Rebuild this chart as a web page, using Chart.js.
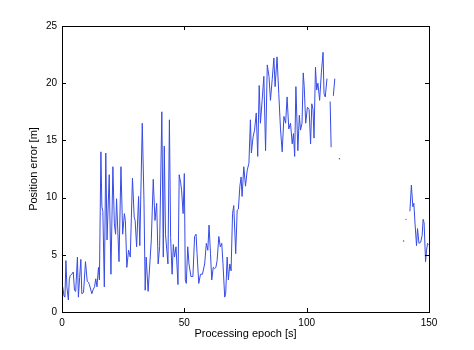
<!DOCTYPE html>
<html>
<head>
  <title>Position error</title>
  <script src="https://cdn.jsdelivr.net/npm/chart.js"></script>
  <style>
    body { margin: 0; background: #fff; }
    #wrap { width: 474px; height: 350px; }
  </style>
</head>
<body>
  <div id="wrap"><canvas id="errChart" width="474" height="350"></canvas></div>

  <script>
    // processing epoch [s] and position error [m]
    const epochs = [
      0.3, 0.8, 1.2, 1.6, 2.0, 2.6, 3.0, 3.4, 4.0, 4.6, 5.1, 5.6, 6.3, 6.7, 7.2, 7.7, 8.1, 8.8, 9.6, 10.3,
      10.8, 11.2, 12.2, 12.8, 13.3, 13.8, 14.3, 14.9, 15.3, 15.9, 16.3, 16.7, 17.3, 17.9, 18.4, 19.3, 20.0, 20.8, 21.4, 21.9,
      22.3, 23.3, 24.1, 24.8, 25.5, 25.9, 26.5, 27.2, 27.9, 28.8, 29.5, 29.9, 30.5, 31.3, 31.8, 32.8, 33.5, 34.0, 34.4, 35.2,
      36.5, 37.3, 38.0, 38.7, 39.3, 39.9, 40.8, 41.4, 41.8, 42.3, 43.3, 43.9, 44.4, 45.0, 45.5, 46.0, 46.6, 47.4, 47.9, 48.5,
      48.9, 49.5, 50.0, 50.4, 50.8, 51.4, 51.9, 52.7, 53.5, 54.2, 54.8, 55.2, 55.9, 56.6, 57.4, 58.3, 59.0, 59.6, 60.1, 60.7,
      61.2, 61.8, 62.4, 62.9, 63.4, 64.1, 64.7, 65.3, 65.8, 66.5, 66.9, 67.5, 68.0, 68.6, 69.1, 69.7, 70.2, 71.0, 71.6, 72.1,
      72.7, 73.2, 73.6, 74.3, 75.0, 75.7, 76.4, 77.0, 77.4, 78.1, 78.7, 79.4, 80.0, 80.6, 81.1, 81.8, 82.5, 83.2, 83.9, 84.6,
      85.2, 85.9, 86.6, 87.1, 87.9, 88.6, 89.3, 90.0, 90.7, 91.4, 92.0, 92.7, 93.4, 94.1, 94.6, 95.1, 95.6, 96.4, 97.0, 97.5,
      98.1, 98.6, 99.0, 99.6, 100.3, 101.0, 101.6, 102.1, 102.6, 103.0, 103.6, 104.1, 104.6, 105.3, 106.0, 106.7, 107.1, 107.6, 108.3, 108.9,
      109.6, 110.0, 110.5, 110.9, 111.5, 112.2, 113.4, 114.0, 139.6, 140.1, 140.6, 141.2, 142.2, 142.8, 143.4, 143.8, 144.3, 144.9, 145.3, 145.9,
      146.6, 147.2, 147.6, 148.0, 148.6, 149.0, 149.4, 149.8
    ];
    const errors = [
      2.2, 1.4, 1.3, 4.5, 2.2, 1.05, 2.9, 3.2, 3.3, 3.5, 1.9, 1.8, 4.8, 1.3, 3.0, 4.6, 1.6, 1.7, 4.4, 2.7,
      2.6, 2.4, 1.6, 2.0, 2.2, 2.9, 2.2, 3.9, 2.8, 14.0, 9.2, 8.8, 2.2, 13.9, 6.3, 12.0, 3.3, 12.7, 7.7, 6.8,
      9.9, 4.4, 12.7, 6.8, 8.6, 8.0, 3.9, 5.4, 4.8, 11.7, 8.3, 8.0, 5.7, 10.1, 5.8, 16.5, 9.8, 1.9, 4.8, 1.8,
      6.3, 11.6, 8.0, 9.5, 4.2, 5.7, 17.5, 4.8, 14.5, 6.8, 4.2, 16.8, 6.5, 3.3, 5.9, 4.8, 5.7, 2.4, 12.0, 11.3,
      10.6, 8.6, 12.1, 2.8, 2.5, 5.7, 4.2, 3.1, 3.1, 6.6, 6.8, 5.1, 2.5, 3.3, 3.3, 4.2, 6.0, 5.4, 7.6, 5.1,
      2.8, 3.9, 3.8, 3.9, 4.5, 6.6, 5.7, 6.0, 4.2, 1.3, 1.6, 4.8, 2.8, 4.2, 3.6, 8.6, 9.3, 5.1, 8.9, 9.0,
      11.0, 11.8, 10.1, 12.7, 11.0, 12.4, 13.0, 16.8, 13.9, 15.3, 15.9, 17.4, 13.6, 19.8, 16.5, 18.5, 20.6, 14.1, 21.6, 20.6,
      18.5, 20.3, 22.2, 19.7, 22.3, 19.1, 16.0, 14.0, 17.1, 16.5, 18.8, 16.0, 16.5, 14.7, 15.6, 13.6, 19.7, 14.1, 17.2, 15.9,
      16.5, 20.9, 19.7, 16.5, 17.9, 17.7, 14.7, 18.2, 17.7, 15.2, 21.4, 19.4, 20.0, 18.5, 20.9, 22.7, 19.1, 18.8, 20.4, null,
      18.4, 14.4, null, 18.9, 20.4, null, 13.4, null, 6.2, null, 8.1, null, 8.8, 11.1, 9.2, 9.5, 7.7, 5.8, 7.3, 6.0,
      6.1, 6.7, 8.1, 7.8, 4.4, 5.4, 6.0, 5.9
    ];
    const xTicks = [0, 50, 100, 150];
    const yTicks = [0, 5, 10, 15, 20, 25];

    const points = epochs.map((t, i) => ({ x: t, y: errors[i] }));

    // MATLAB style box with inward ticks on all four sides
    const boxPlugin = {
      id: 'box',
      afterDraw(chart) {
        const { ctx, chartArea: a, scales } = chart;
        const len = 4;
        ctx.save();
        ctx.strokeStyle = '#000';
        ctx.lineWidth = 1;
        ctx.beginPath();
        xTicks.forEach(v => {
          const px = Math.round(scales.x.getPixelForValue(v)) + 0.5;
          ctx.moveTo(px, a.bottom); ctx.lineTo(px, a.bottom - len);
          ctx.moveTo(px, a.top); ctx.lineTo(px, a.top + len);
        });
        yTicks.forEach(v => {
          const py = Math.round(scales.y.getPixelForValue(v)) + 0.5;
          ctx.moveTo(a.left, py); ctx.lineTo(a.left + len, py);
          ctx.moveTo(a.right, py); ctx.lineTo(a.right - len, py);
        });
        ctx.stroke();
        ctx.strokeRect(Math.round(a.left) + 0.5, Math.round(a.top) + 0.5,
          Math.round(a.right - a.left), Math.round(a.bottom - a.top));
        ctx.restore();
      }
    };

    const font = { family: 'Liberation Sans, Arial, sans-serif', size: 10 };

    new Chart(document.getElementById('errChart'), {
      type: 'line',
      data: {
        datasets: [{
          data: points,
          borderColor: 'rgb(55, 75, 228)',
          backgroundColor: 'rgb(55, 75, 228)',
          borderWidth: 1,
          tension: 0,
          spanGaps: false,
          pointRadius: c => {
            const i = c.dataIndex;
            const isolated = errors[i] !== null && errors[i - 1] === null && errors[i + 1] === null;
            return isolated ? 0.7 : 0;
          },
          pointBorderWidth: 0
        }]
      },
      options: {
        responsive: false,
        animation: false,
        devicePixelRatio: 1,
        layout: { padding: { left: 0, top: 26, right: 45, bottom: 0 } },
        plugins: {
          legend: { display: false },
          tooltip: { enabled: false }
        },
        scales: {
          x: {
            type: 'linear',
            min: 0,
            max: 150,
            afterFit: s => { s.height = 38; },
            afterBuildTicks: s => { s.ticks = xTicks.map(v => ({ value: v })); },
            grid: { display: false, drawTicks: false },
            border: { display: false },
            ticks: { color: '#000', font: font, padding: 5, maxRotation: 0 },
            title: {
              display: true,
              text: 'Processing epoch [s]',
              color: '#000',
              font: { family: font.family, size: 11 },
              padding: { top: 9, bottom: 9 }
            }
          },
          y: {
            min: 0,
            max: 25,
            afterFit: s => { s.width = 62; },
            afterBuildTicks: s => { s.ticks = yTicks.map(v => ({ value: v })); },
            grid: { display: false, drawTicks: false },
            border: { display: false },
            ticks: { color: '#000', font: font, padding: 5 },
            title: {
              display: true,
              text: 'Position error [m]',
              color: '#000',
              font: { family: font.family, size: 11 },
              padding: { top: 27, bottom: 27 }
            }
          }
        }
      },
      plugins: [boxPlugin]
    });
  </script>
</body>
</html>
